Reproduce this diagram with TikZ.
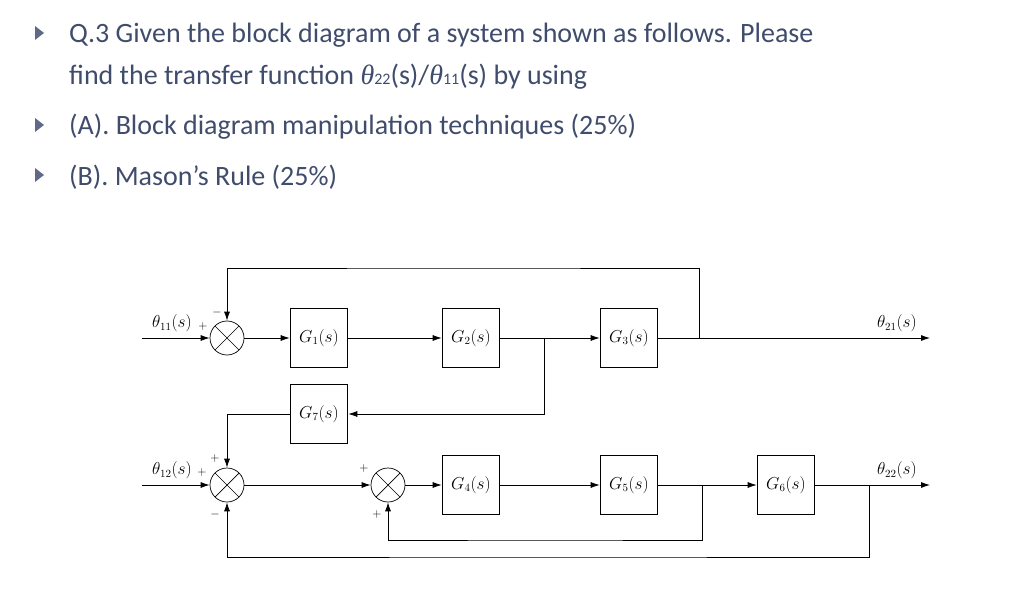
\documentclass[tikz,border=0pt]{standalone}
\usepackage{fontspec}
\setmainfont{Carlito}
\newfontfamily\diafont{Liberation Serif}
\usetikzlibrary{arrows.meta, positioning}
\definecolor{slidetext}{RGB}{64,76,108}
\definecolor{slidebullet}{RGB}{96,106,134}

\begin{document}
\begin{tikzpicture}[x=1pt, y=-1pt,
        block/.style={draw, line width=1.6pt, minimum width=57pt, minimum height=59pt, inner sep=0pt, font=\fontsize{16}{16}\selectfont},
        sum/.style={draw, circle, minimum size=34pt, inner sep=0pt, line width=0.7pt,
            path picture={\draw[line width=0.7pt] (path picture bounding box.north west) -- (path picture bounding box.south east)
                (path picture bounding box.north east) -- (path picture bounding box.south west);}},
        arrow/.style={-{Latex[length=9pt, width=6pt]}, line width=0.8pt},
        line/.style={line width=0.8pt},
        sign/.style={inner sep=0pt, font=\fontsize{13}{13}\selectfont},
        sig/.style={inner sep=0pt, font=\fontsize{16}{16}\selectfont},
        item/.style={anchor=base west, inner sep=0pt, text=slidetext, font=\fontsize{28}{28}\selectfont},
        bullet/.style={fill=slidebullet}]

        \useasboundingbox (0,0) rectangle (1024,593);

        % Text
        \node [item] (q1) at (69,43) {Q.3 Given the block diagram of a system shown as follows. Please};
        \node [item] (q2) at (69,85) {find the transfer function {\diafont\itshape θ}{\fontsize{16}{16}\selectfont 22}(s)/{\diafont\itshape θ}{\fontsize{16}{16}\selectfont 11}(s) by using};
        \node [item] (qa) at (69,135) {(A). Block diagram manipulation techniques (25\%)};
        \node [item] (qb) at (69,186) {(B). Mason’s Rule (25\%)};
        \foreach \y in {33,125,175}
            \fill [bullet] (35,\y-7) -- (44,\y) -- (35,\y+7) -- cycle;

        % Nodes
        \node [sum] (sum1) at (227,338) {};
        \node [sum] (sum2) at (227,485) {};
        \node [sum] (sum3) at (388,485) {};
        \node [block] (g1) at (319,338) {$G_1(s)$};
        \node [block] (g2) at (471,338) {$G_2(s)$};
        \node [block] (g3) at (629,338) {$G_3(s)$};
        \node [block] (g7) at (319,414) {$G_7(s)$};
        \node [block] (g4) at (471,485) {$G_4(s)$};
        \node [block] (g5) at (629,485) {$G_5(s)$};
        \node [block] (g6) at (786,485) {$G_6(s)$};

        \coordinate (in1) at (142,338);
        \coordinate (in2) at (142,485);
        \coordinate (out1) at (930,338);
        \coordinate (out2) at (930,485);
        \coordinate (b1) at (544,338);
        \coordinate (b2) at (699,338);
        \coordinate (b3) at (702,485);
        \coordinate (b4) at (869,485);

        % Labels
        \node [sig, above=6pt of in1, xshift=30pt] (th11) {$\theta_{11}(s)$};
        \node [sig, above=6pt of in2, xshift=30pt] (th12) {$\theta_{12}(s)$};
        \node [sig, above=6pt of out1, xshift=-33pt] (th21) {$\theta_{21}(s)$};
        \node [sig, above=6pt of out2, xshift=-33pt] (th22) {$\theta_{22}(s)$};
        \node [sign] at (203,326) {$+$};
        \node [sign] at (217,313) {$-$};
        \node [sign] at (202,472) {$+$};
        \node [sign] at (215,458) {$+$};
        \node [sign] at (215,514) {$-$};
        \node [sign] at (364,468) {$+$};
        \node [sign] at (377,514) {$+$};

        % Arrows
        \draw [arrow] (in1) -- (sum1);
        \draw [arrow] (sum1) -- (g1);
        \draw [arrow] (g1) -- (g2);
        \draw [line] (g2) -- (b1);
        \draw [arrow] (b1) -- (g3);
        \draw [arrow] (g3) -- (out1);
        \draw [arrow] (b2) |- (464,268) -| (sum1);
        \draw [arrow] (b1) |- (g7);
        \draw [arrow] (g7) -| (sum2);
        \draw [arrow] (in2) -- (sum2);
        \draw [arrow] (sum2) -- (sum3);
        \draw [arrow] (sum3) -- (g4);
        \draw [arrow] (g4) -- (g5);
        \draw [line] (g5) -- (b3);
        \draw [arrow] (b3) -- (g6);
        \draw [arrow] (g6) -- (out2);
        \draw [arrow] (b3) |- (545,540) -| (sum3);
        \draw [arrow] (b4) |- (548,557) -| (sum2);
\end{tikzpicture}
\end{document}
